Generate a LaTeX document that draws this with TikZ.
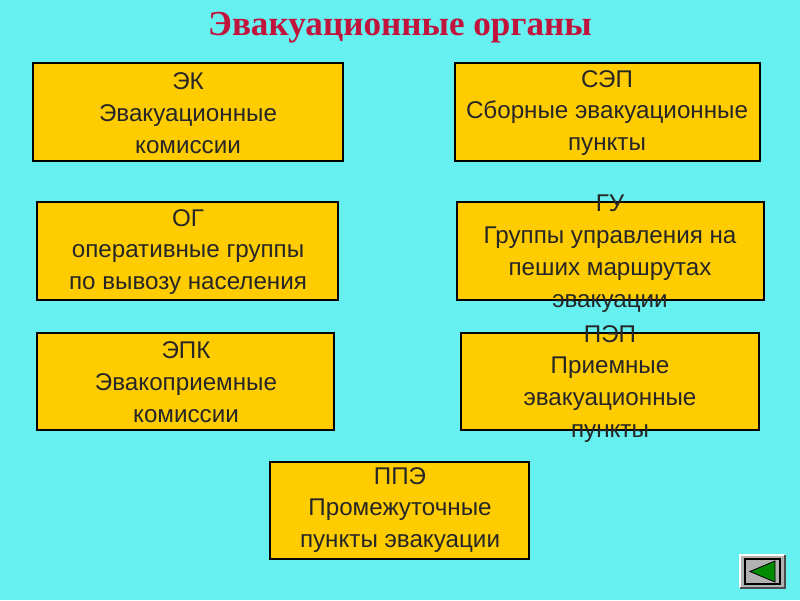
\documentclass[tikz,border=0pt]{standalone}
\usepackage{fontspec}
\setmainfont{Liberation Sans}
\newfontfamily\titlefont{Liberation Serif}
\definecolor{bg}{RGB}{102,240,240}
\definecolor{boxc}{RGB}{255,204,0}
\definecolor{titc}{RGB}{192,20,60}
\begin{document}
\begin{tikzpicture}[x=0.025cm,y=-0.025cm,
 box/.style={draw=black,line width=0.8pt,fill=boxc},
 txt/.style={align=center,font=\fontsize{17.2}{22.7}\selectfont,inner sep=0pt,text=black!85}]
\fill[bg] (0,0) rectangle (800,600);
\useasboundingbox (0,0) rectangle (800,600);
\node[font=\titlefont\bfseries\fontsize{25}{28}\selectfont,text=titc] (title) at (400,28) {Эвакуационные органы};
\foreach \n/\a/\b/\c/\d in {ek/33/63/343/161, sep/455/63/760/161, og/37/202/338/300, gu/457/202/764/300, epk/37/333/334/430, pep/461/333/759/430, ppe/270/462/529/559}
  \draw[box] (\a,\b) rectangle (\c,\d) coordinate (\n);
\node[txt] (tek) at (188,113) {ЭК\\Эвакуационные\\комиссии};
\node[txt] (tsep) at (607,113) {СЭП\\Сборные эвакуационные\\пункты};
\node[txt] (tog) at (188,252) {ОГ\\оперативные группы\\по вывозу населения};
\node[txt] (tgu) at (610,254) {ГУ\\Группы управления на\\пеших маршрутах\\эвакуации};
\node[txt] (tepk) at (186,382) {ЭПК\\Эвакоприемные\\комиссии};
\node[txt] (tpep) at (610,384) {ПЭП\\Приемные\\эвакуационные\\пункты};
\node[txt] (tppe) at (400,510) {ППЭ\\Промежуточные\\пункты эвакуации};
% button
\fill[gray!60] (740,555) rectangle (785,588);
\draw[white,line width=1pt] (740,588) -- (740,555) -- (785,555);
\draw[black!70,line width=1pt] (740,588) -- (785,588) -- (785,555);
\draw[black,line width=0.8pt] (745,559) rectangle (780,584);
\fill[green!55!black] (750,571.5) -- (775,561) -- (775,582) -- cycle;
\draw[black,line width=0.6pt] (750,571.5) -- (775,561) -- (775,582) -- cycle;
\end{tikzpicture}
\end{document}
